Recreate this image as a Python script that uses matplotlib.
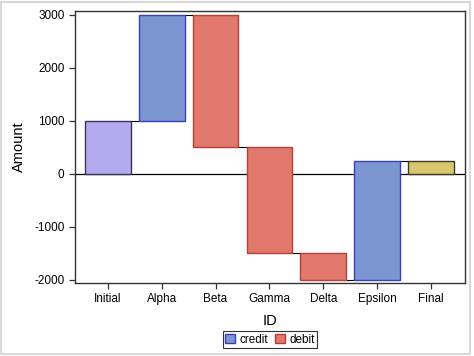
import matplotlib.pyplot as plt
from matplotlib.patches import Patch, Rectangle

plt.rcParams['font.family'] = ['Liberation Sans', 'DejaVu Sans']
plt.rcParams['axes.unicode_minus'] = False

ids = ["Initial", "Alpha", "Beta", "Gamma", "Delta", "Epsilon", "Final"]
amounts = [1000, 2000, -2500, -2000, -500, 2250, 250]
kinds = ["initial", "credit", "debit", "debit", "debit", "credit", "final"]

fill = {"initial": "#b4aaf0", "credit": "#7b96d0", "debit": "#e0796b", "final": "#d8c76e"}
edge = {"initial": "#3a3450", "credit": "#3b3fb8", "debit": "#b5403a", "final": "#3a3a2a"}

# waterfall: start/end of each bar
starts, ends = [], []
total = 0
for i, v in enumerate(amounts):
    if kinds[i] == "final":
        starts.append(0)
        ends.append(total)
    else:
        starts.append(total)
        total += v
        ends.append(total)

fig = plt.figure(figsize=(4.74, 3.56), dpi=100)
ax = fig.add_axes([0.158, 0.205, 0.823, 0.764])

x = list(range(len(ids)))
for i in x:
    lo, hi = min(starts[i], ends[i]), max(starts[i], ends[i])
    ax.bar(i, hi - lo, bottom=lo, width=0.85, color=fill[kinds[i]],
           edgecolor=edge[kinds[i]], linewidth=1.0, zorder=2)

# connectors between bars
for i in range(len(ids) - 1):
    ax.plot([i + 0.425, i + 1 - 0.425], [ends[i], ends[i]], color="black", lw=0.8, zorder=1)

ax.axhline(0, color="black", lw=0.9, zorder=1)

ax.set_xlim(-0.61, 6.63)
ax.set_ylim(-2057, 3070)
ax.set_xticks(x)
ax.set_xticklabels(ids, fontsize=8.5)
ax.set_yticks([-2000, -1000, 0, 1000, 2000, 3000])
ax.tick_params(axis="y", labelsize=8.5)
ax.tick_params(length=4, width=0.9, color="#333333")
for s in ax.spines.values():
    s.set_color("#333333")
    s.set_linewidth(1.0)
ax.set_xlabel("ID", fontsize=10.5, labelpad=6)
ax.set_ylabel("Amount", fontsize=10.5, labelpad=6)

handles = [Patch(facecolor=fill["credit"], edgecolor=edge["credit"], label="credit"),
           Patch(facecolor=fill["debit"], edgecolor=edge["debit"], label="debit")]
leg = fig.legend(handles=handles, loc="center", bbox_to_anchor=(0.57, 0.046), ncol=2,
                 fontsize=8.5, frameon=True, fancybox=False, handlelength=0.8,
                 handleheight=0.8, handletextpad=0.4, columnspacing=0.6,
                 borderpad=0.2, borderaxespad=0)
leg.get_frame().set_edgecolor("black")
leg.get_frame().set_linewidth(0.8)

fig.patches.append(Rectangle((0.003, 0.006), 0.988, 0.988, transform=fig.transFigure,
                             fill=False, edgecolor="#d8d8d8", lw=1.5))

fig.savefig("out.png", dpi=100)
